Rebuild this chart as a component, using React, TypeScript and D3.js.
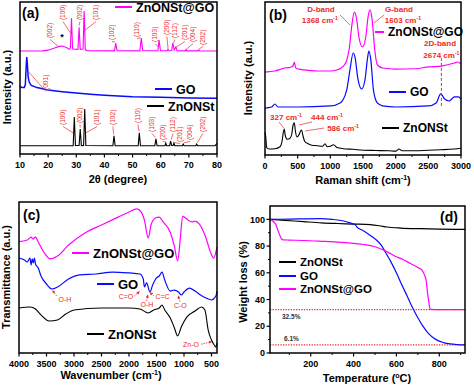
import React from 'react';
import * as d3 from 'd3';

type Pt = [number, number];
// [text, label x, label foot y, leader end x, leader end y] in data units
type Lbl = [string, number, number, number, number];

const FONT = 'Arial, "Liberation Sans", Helvetica, sans-serif';
const RED = '#ee2a2a';
const PINK = '#ff00ff';
const BLUE = '#0a0aff';

// ---------- (a) XRD, 2θ vs intensity (a.u.)
const xrdZnONSt: Pt[] = [
  [10, 5.5], [28.9, 5.5], [29.3, 24.5], [29.7, 5.6], [31.0, 5.6], [31.4, 16.6], [31.8, 5.6],
  [32.6, 5.7], [33.0, 29.8], [33.4, 5.6], [43.0, 5.5], [43.4, 12], [43.8, 5.5], [52.0, 5.5],
  [52.4, 14], [52.8, 5.5], [57.9, 5.5], [58.3, 10], [58.7, 5.5], [61.5, 5.5], [61.8, 7.3],
  [62.1, 5.5], [63.2, 5.5], [63.5, 8.6], [63.9, 5.6], [64.4, 5.6], [64.7, 7.3], [65.0, 5.5],
  [67.7, 5.5], [68.0, 6.6], [68.3, 5.5], [72.5, 5.5], [72.8, 6.6], [73.1, 5.5], [79.3, 5.5], [80, 7],
];
const xrdGO: Pt[] = [
  [10, 45], [10.5, 44.2], [11, 44], [11.5, 44], [11.9, 46], [12.2, 58], [12.4, 64.2], [12.6, 60],
  [12.9, 51], [13.3, 47.5], [14, 45.5], [16, 44], [20, 42.4], [25, 41.3], [30, 40.4], [35, 39.6],
  [40, 39], [50, 38], [60, 37.6], [70, 37.1], [80, 37],
];
const xrdComposite: Pt[] = [
  [10, 68.2], [18, 68.3], [20, 68.8], [22, 70], [24, 71.3], [25, 71.5], [26.5, 70.5], [27.5, 69.3],
  [27.9, 70], [28.3, 90], [28.7, 69.5], [30.6, 69.3], [31.0, 84], [31.4, 69.3], [32.4, 69.5],
  [32.8, 94.7], [33.2, 69], [34, 68.4], [43.6, 68.3], [44.0, 73.5], [44.5, 68.5], [52.6, 68.3],
  [53.1, 76.8], [53.6, 68.6], [55, 68.4], [59.0, 68.4], [59.4, 75.5], [59.9, 68.5], [62.3, 68.4],
  [62.6, 69.5], [62.9, 68.4], [63.9, 68.6], [64.3, 73.5], [64.8, 69], [65.4, 71], [65.8, 68.5],
  [68.7, 68.3], [69, 69.3], [69.3, 68.3], [73.2, 68.3], [73.5, 69], [73.8, 68.3], [80, 68.2],
];
const xrdZnONStLabels: Lbl[] = [
  ['(100)', 25.3, 19.2, 28.9, 14], ['(002)', 31.3, 20.5, 31.4, 17.5], ['(101)', 37.4, 19.2, 33.4, 14],
  ['(102)', 43.0, 19.2, 43.3, 13], ['(110)', 51.9, 20.5, 52.3, 15], ['(103)', 56.9, 14.6, 58.1, 11],
  ['(200)', 60.8, 9.3, 61.6, 8], ['(112)', 64.4, 14.6, 63.7, 9.5], ['(201)', 66.9, 8, 65.0, 7.5],
  ['(004)', 70.4, 9.3, 68.3, 7.5], ['(202)', 75.0, 14.6, 73.0, 7.5],
];
const xrdCompositeLabels: Lbl[] = [
  ['(002)', 20.7, 76.8, 23.5, 71.5], ['(100)', 25.3, 88.7, 28.0, 80], ['(002)', 31.3, 88.7, 31.0, 85],
  ['(101)', 37.0, 88.7, 33.1, 82], ['(102)', 42.7, 75.5, 43.8, 74.2], ['(110)', 51.6, 77.5, 52.9, 77],
  ['(103)', 58.0, 74.2, 59.0, 71], ['(200)', 62.2, 78.8, 62.6, 70], ['(112)', 65.1, 76.8, 64.5, 73.5],
  ['(201)', 68.6, 75.5, 65.6, 71], ['(004)', 71.5, 74.2, 69.2, 69.5], ['(202)', 75.0, 72.2, 73.6, 69.5],
];
const xrdGOLabels: Lbl[] = [['(001)', 19.2, 42.4, 12.8, 55]];

// ---------- (b) Raman, shift (cm-1) vs intensity (a.u.)
const ramanComposite: Pt[] = [
  [0, 55.3], [150, 56], [250, 57.3], [300, 58], [360, 58.2], [400, 58.7], [430, 59.5], [450, 62],
  [470, 58], [520, 57.2], [600, 56.7], [800, 56], [1000, 56], [1100, 56.7], [1200, 59.3], [1250, 63],
  [1290, 71], [1330, 86.7], [1368, 95.3], [1400, 91.3], [1440, 78], [1490, 72], [1540, 78],
  [1580, 92.7], [1610, 96.7], [1640, 90], [1680, 70], [1720, 60], [1800, 58], [2000, 57.3],
  [2300, 57.5], [2500, 58.7], [2700, 59.3], [2900, 61.3], [2950, 62], [3000, 60.7],
];
const ramanGO: Pt[] = [
  [0, 31.3], [100, 32], [150, 34], [200, 32], [500, 32], [1000, 32.7], [1150, 34.7], [1250, 43.3],
  [1300, 56.7], [1350, 68], [1380, 64.7], [1420, 51.3], [1480, 44], [1530, 50], [1570, 64.7],
  [1590, 69.3], [1620, 63.3], [1660, 43.3], [1720, 34.7], [1800, 32.7], [2000, 32], [2500, 32.7],
  [2620, 34.7], [2690, 40.7], [2750, 37.3], [2820, 36], [2900, 38.7], [2960, 38.7], [3000, 37.3],
];
const ramanZnONSt: Pt[] = [
  [0, 15], [12, 12], [25, 5], [60, 4], [150, 4.2], [230, 5.5], [260, 9], [280, 15], [295, 17.3],
  [310, 13], [340, 10.5], [380, 11], [410, 14], [430, 20], [449, 21.5], [465, 16], [490, 12],
  [520, 13.5], [545, 16], [561, 16.7], [580, 13], [610, 9], [660, 7.5], [720, 6.5], [800, 6.2],
  [880, 5.8], [920, 7.5], [950, 5.5], [1000, 5.8], [1050, 6.8], [1100, 5], [1200, 4.2], [1350, 3.8],
  [1500, 3.2], [1700, 3], [1900, 2.8], [2000, 2.6], [2050, 4], [2100, 2.8], [2300, 2.8], [2500, 3.2],
  [2700, 3.5], [2900, 4], [3000, 4.5],
];

// ---------- (c) FTIR, wavenumber (cm-1) vs transmittance (a.u.)
const ftirComposite: Pt[] = [
  [4000, 73.7], [3850, 74.8], [3780, 76.8], [3750, 75.5], [3700, 76.8], [3650, 73.5], [3550, 66.9],
  [3430, 62.3], [3300, 64.2], [3100, 71.5], [2800, 79.5], [2500, 84.8], [2200, 90], [2000, 93.4],
  [1860, 95.4], [1780, 93.4], [1720, 88], [1650, 76.2], [1600, 84.8], [1520, 89.4], [1450, 90],
  [1380, 86.8], [1250, 80], [1180, 71.5], [1115, 61], [1070, 74.8], [1024, 90.7], [950, 88.7],
  [850, 86.8], [800, 87.4], [720, 85.4], [600, 76.2], [520, 66.9], [460, 62.9], [420, 66.9], [400, 70.2],
];
const ftirGO: Pt[] = [
  [4000, 62.9], [3900, 61.6], [3850, 60.3], [3800, 62.9], [3780, 58.3], [3760, 62.3], [3740, 59.6],
  [3720, 62.9], [3700, 58.9], [3650, 56.3], [3600, 51], [3500, 45.7], [3400, 42.4], [3300, 43.7],
  [3100, 49], [2900, 51.7], [2600, 52.3], [2300, 53.6], [2000, 53], [1800, 52.3], [1740, 49],
  [1720, 43.7], [1680, 46.4], [1620, 40.4], [1570, 45], [1500, 49.7], [1450, 51], [1400, 53.6],
  [1350, 48.3], [1250, 41], [1180, 41.7], [1100, 40.4], [1050, 38.4], [1000, 40.4], [900, 43],
  [800, 41], [700, 38.4], [600, 36.4], [500, 35.1], [420, 37.7], [400, 41],
];
const ftirZnONSt: Pt[] = [
  [4000, 29.8], [3800, 30.5], [3700, 29.1], [3600, 25.2], [3450, 21.2], [3300, 21.9], [3150, 25.8],
  [3000, 28.5], [2500, 29.8], [2000, 29.8], [1800, 29.1], [1700, 27.2], [1650, 26.5], [1550, 28.5],
  [1450, 29.8], [1400, 31.8], [1350, 28.5], [1250, 23.2], [1180, 17.2], [1115, 11.3], [1050, 17.2],
  [950, 23.8], [800, 27.8], [680, 30.5], [620, 28.5], [560, 15.2], [500, 8.6], [450, 5.3], [420, 4],
  [400, 6.6],
];
// [text, text x, text y, arrow from x, from y, arrow to x, to y]
const ftirBands: [string, number, number, number, number, number, number][] = [
  ['O-H', 3164, 35.1, 3315, 37.7, 3387, 41.3],
  ['C=O', 2055, 37.3, 1903, 37.7, 1812, 40.6],
  ['O-H', 1673, 31.8, 1678, 34.4, 1660, 38.4],
  ['C=C', 1391, 37.3, 1545, 37.7, 1618, 40],
  ['C-O', 1067, 31.2, 1073, 34, 1103, 37.7],
  ['Zn-O', 873, 5.3, 691, 5.8, 496, 7.5],
];

// ---------- (d) TGA, temperature (°C) vs weight (%)
const tgaZnONSt: Pt[] = [
  [10, 100], [60, 99.5], [167, 98.3], [250, 97.4], [323, 96.9], [400, 96.5], [478, 96], [520, 95.2],
  [556, 94.3], [620, 93.5], [711, 93], [800, 92.7], [921, 92.5],
];
const tgaGO: Pt[] = [
  [10, 100], [100, 100.2], [245, 100.5], [300, 100], [354, 98.8], [390, 97], [408, 96], [416, 94.2],
  [440, 92], [478, 88], [510, 84], [530, 80.5], [548, 75.6], [575, 68], [603, 59], [625, 51],
  [649, 43], [672, 35], [696, 27.5], [722, 20.5], [750, 14.5], [785, 10], [820, 7.8], [850, 6.8],
  [883, 6.3], [921, 6.1],
];
const tgaComposite: Pt[] = [
  [10, 100], [35, 96.8], [50, 90.5], [62, 86], [70, 84.7], [100, 84.5], [167, 84.2], [250, 83.6],
  [323, 83], [400, 82], [447, 81.2], [500, 79.5], [525, 78], [560, 75.5], [587, 73], [630, 70],
  [665, 67], [700, 64], [719, 62], [732, 58], [739, 54], [745, 45], [750, 39.5], [755, 34],
  [760, 32.6], [780, 32.5], [921, 32.5],
];
const residues = [32.5, 6.1];

type Scale = d3.ScaleLinear<number, number>;

function Frame({ x, y, xMajor, xMinor, yMajor = [], yMinor = [] }: {
  x: Scale; y: Scale; xMajor: number[]; xMinor: number[]; yMajor?: number[]; yMinor?: number[];
}) {
  const [xa, xb] = x.range();
  const [yb, yt] = y.range();
  return (
    <g>
      {xMajor.map((v) => (
        <g key={'xM' + v}>
          <line x1={x(v)} x2={x(v)} y1={yb} y2={yb + 3.5} stroke="#000" strokeWidth={1.2} />
          <text x={x(v)} y={yb + 13.5} textAnchor="middle" fontSize={9} fontWeight="bold">{v}</text>
        </g>
      ))}
      {xMinor.map((v) => (
        <line key={'xm' + v} x1={x(v)} x2={x(v)} y1={yb} y2={yb + 2} stroke="#000" strokeWidth={1} />
      ))}
      {yMajor.map((v) => (
        <g key={'yM' + v}>
          <line x1={xa} x2={xa - 3.5} y1={y(v)} y2={y(v)} stroke="#000" strokeWidth={1.2} />
          <text x={xa - 5} y={y(v) + 3.2} textAnchor="end" fontSize={9} fontWeight="bold">{v}</text>
        </g>
      ))}
      {yMinor.map((v) => (
        <line key={'ym' + v} x1={xa} x2={xa - 2} y1={y(v)} y2={y(v)} stroke="#000" strokeWidth={1} />
      ))}
      <rect x={xa} y={yt} width={xb - xa} height={yb - yt} fill="none" stroke="#000" strokeWidth={1.5} />
    </g>
  );
}

function Legend({ x, y, color, text, size, len = 17 }: { x: number; y: number; color: string; text: string; size: number; len?: number }) {
  return (
    <g>
      <line x1={x} x2={x + len} y1={y} y2={y} stroke={color} strokeWidth={2} />
      <text x={x + len + 4} y={y + size * 0.36} fontSize={size} fontWeight="bold">{text}</text>
    </g>
  );
}

function Cm({ x, y, n, size, anchor = 'middle', weight = 'bold', color = '#000' }: {
  x: number; y: number; n: string; size: number; anchor?: string; weight?: string; color?: string;
}) {
  return (
    <text x={x} y={y} textAnchor={anchor as any} fontSize={size} fontWeight={weight} fill={color}>
      {n}cm<tspan fontSize={size * 0.65} dy={-size * 0.4}>-1</tspan>
    </text>
  );
}

function PeakLabels({ x, y, labels }: { x: Scale; y: Scale; labels: Lbl[] }) {
  return (
    <g>
      {labels.map(([t, lx, ly, ex, ey], i) => (
        <g key={i}>
          <text transform={`translate(${x(lx)},${y(ly)}) rotate(-90)`} dy="0.35em" fontSize={6.6} fill={RED}>{t}</text>
          <line x1={x(lx)} y1={y(ly) + 1.5} x2={x(ex)} y2={y(ey)} stroke={RED} strokeWidth={0.7} />
        </g>
      ))}
    </g>
  );
}

export default function App() {
  const mkLine = (x: Scale, y: Scale, curve: d3.CurveFactory = d3.curveLinear) =>
    d3.line<Pt>().x((d) => x(d[0])).y((d) => y(d[1])).curve(curve);

  // (a)
  const xA = d3.scaleLinear().domain([10, 80]).range([20, 217]);
  const yA = d3.scaleLinear().domain([0, 100.7]).range([154, 2]);
  const lA = mkLine(xA, yA);
  // (b)
  const xB = d3.scaleLinear().domain([0, 3000]).range([265, 461]);
  const yB = d3.scaleLinear().domain([0, 102]).range([155, 2]);
  const lB = mkLine(xB, yB, d3.curveMonotoneX);
  // (c)
  const xC = d3.scaleLinear().domain([4000, 400]).range([19, 217]);
  const yC = d3.scaleLinear().domain([0, 100]).range([353, 202]);
  const lC = mkLine(xC, yC, d3.curveMonotoneX);
  // (d)
  const xD = d3.scaleLinear().domain([10, 920]).range([270, 465]);
  const yD = d3.scaleLinear().domain([0, 110]).range([353, 206]);
  const lD = mkLine(xD, yD, d3.curveMonotoneX);

  const range = (a: number, b: number, s: number) => d3.range(a, b + s / 2, s);

  return (
    <div style={{ position: 'fixed', left: 0, top: 0 }}>
      <svg width={474} height={385} style={{ display: 'block', background: '#fff' }} fontFamily={FONT}>
        <defs>
          <marker id="arr" viewBox="0 0 6 6" refX="5" refY="3" markerWidth="4" markerHeight="4" orient="auto">
            <path d="M0,0 L6,3 L0,6 z" fill={RED} />
          </marker>
        </defs>

        {/* (a) XRD */}
        <path d={lA(xrdZnONSt) || ''} fill="none" stroke="#000" strokeWidth={1.1} />
        <path d={lA(xrdGO) || ''} fill="none" stroke={BLUE} strokeWidth={1.5} />
        <path d={lA(xrdComposite) || ''} fill="none" stroke={PINK} strokeWidth={1.1} />
        <PeakLabels x={xA} y={yA} labels={xrdZnONStLabels} />
        <PeakLabels x={xA} y={yA} labels={xrdCompositeLabels} />
        <PeakLabels x={xA} y={yA} labels={xrdGOLabels} />
        <text x={xA(24.9)} y={yA(75.5)} fontSize={9} textAnchor="middle" fontWeight="bold">*</text>
        <Frame x={xA} y={yA} xMajor={range(10, 80, 10)} xMinor={range(15, 75, 10)} />
        <text x={22} y={18} fontSize={14} fontWeight="bold">(a)</text>
        <Legend x={115} y={7} color={PINK} text="ZnONSt@GO" size={12.5} />
        <Legend x={155} y={89} color={BLUE} text="GO" size={12.5} />
        <Legend x={147} y={106} color="#000" text="ZnONSt" size={12.5} />
        <text x={118} y={183} textAnchor="middle" fontSize={11} fontWeight="bold">2θ (degree)</text>
        <text transform="translate(11,87) rotate(-90)" textAnchor="middle" fontSize={11} fontWeight="bold">Intensity (a.u.)</text>

        {/* (b) Raman */}
        <path d={lB(ramanZnONSt) || ''} fill="none" stroke="#000" strokeWidth={1.1} />
        <path d={lB(ramanGO) || ''} fill="none" stroke={BLUE} strokeWidth={1.2} />
        <path d={lB(ramanComposite) || ''} fill="none" stroke={PINK} strokeWidth={1.2} />
        <line x1={xB(2700)} x2={xB(2700)} y1={yB(64.7)} y2={yB(32)} stroke={RED} strokeWidth={1} strokeDasharray="3,2" />
        <Frame x={xB} y={yB} xMajor={range(0, 3000, 500)} xMinor={range(250, 2750, 500)} />
        <text x={269} y={20} fontSize={14} fontWeight="bold">(b)</text>
        <text x={xB(857)} y={yB(95.3)} textAnchor="middle" fontSize={8} fontWeight="bold" fill={RED}>D-band</text>
        <Cm x={xB(840)} y={yB(88)} n="1368 " size={8} color={RED} />
        <line x1={xB(1148)} y1={yB(93.3)} x2={xB(1301)} y2={yB(86.7)} stroke={RED} strokeWidth={0.7} />
        <text x={xB(2051)} y={yB(95.3)} textAnchor="middle" fontSize={8} fontWeight="bold" fill={RED}>G-band</text>
        <Cm x={xB(2112)} y={yB(88)} n="1603 " size={8} color={RED} />
        <line x1={xB(1821)} y1={yB(93.3)} x2={xB(1668)} y2={yB(88)} stroke={RED} strokeWidth={0.7} />
        <text x={xB(2679)} y={yB(72.7)} textAnchor="middle" fontSize={8} fontWeight="bold" fill={RED}>2D-band</text>
        <Cm x={xB(2700)} y={yB(64.7)} n="2674 " size={8} color={RED} />
        <Cm x={xB(321)} y={yB(23.3)} n="327 " size={8} color={RED} />
        <Cm x={xB(949)} y={yB(23.3)} n="444 " size={8} color={RED} />
        <Cm x={xB(1194)} y={yB(16)} n="586 " size={8} color={RED} />
        <line x1={xB(214)} y1={yB(22)} x2={xB(291)} y2={yB(17.8)} stroke={RED} strokeWidth={0.7} />
        <line x1={xB(719)} y1={yB(22)} x2={xB(520)} y2={yB(20)} stroke={RED} strokeWidth={0.7} />
        <line x1={xB(903)} y1={yB(18)} x2={xB(612)} y2={yB(16)} stroke={RED} strokeWidth={0.7} />
        <Legend x={375} y={32} color={PINK} text="ZnONSt@GO" size={12} len={9} />
        <Legend x={389} y={92} color={BLUE} text="GO" size={12} />
        <Legend x={382} y={128} color="#000" text="ZnONSt" size={12} />
        <text x={363} y={184} textAnchor="middle" fontSize={11} fontWeight="bold">
          Raman shift (cm<tspan fontSize={7} dy={-4}>-1</tspan><tspan dy={4}>)</tspan>
        </text>
        <text transform="translate(252,78) rotate(-90)" textAnchor="middle" fontSize={11} fontWeight="bold">Intensity (a.u.)</text>

        {/* (c) FTIR */}
        <path d={lC(ftirZnONSt) || ''} fill="none" stroke="#000" strokeWidth={1.1} />
        <path d={lC(ftirGO) || ''} fill="none" stroke={BLUE} strokeWidth={1.2} />
        <path d={lC(ftirComposite) || ''} fill="none" stroke={PINK} strokeWidth={1.2} />
        {ftirBands.map(([t, tx, ty, ax, ay, bx, by], i) => (
          <g key={i}>
            <text x={xC(tx)} y={yC(ty)} dy="0.35em" textAnchor="middle" fontSize={7} fill={RED}>{t}</text>
            <line x1={xC(ax)} y1={yC(ay)} x2={xC(bx)} y2={yC(by)} stroke={RED} strokeWidth={0.8} strokeDasharray="1.5,1" markerEnd="url(#arr)" />
          </g>
        ))}
        <Frame x={xC} y={yC} xMajor={range(500, 4000, 500)} xMinor={range(750, 3750, 500)} />
        <text x={23} y={220} fontSize={14} fontWeight="bold">(c)</text>
        <Legend x={72} y={253} color={PINK} text="ZnONSt@GO" size={13} />
        <Legend x={97} y={284} color={BLUE} text="GO" size={13} />
        <Legend x={87} y={334} color="#000" text="ZnONSt" size={13} />
        <text x={111} y={379} textAnchor="middle" fontSize={11} fontWeight="bold">
          Wavenumber (cm<tspan fontSize={7} dy={-4}>-1</tspan><tspan dy={4}>)</tspan>
        </text>
        <text transform="translate(10,277) rotate(-90)" textAnchor="middle" fontSize={11} fontWeight="bold">Transmittance (a.u.)</text>

        {/* (d) TGA */}
        {residues.map((r) => (
          <line key={r} x1={xD(10)} x2={xD(920)} y1={yD(r)} y2={yD(r)} stroke={RED} strokeWidth={1.3} strokeDasharray="1.3,1.3" />
        ))}
        <path d={lD(tgaZnONSt) || ''} fill="none" stroke="#000" strokeWidth={1.2} />
        <path d={lD(tgaGO) || ''} fill="none" stroke={BLUE} strokeWidth={1.2} />
        <path d={lD(tgaComposite) || ''} fill="none" stroke={PINK} strokeWidth={1.2} />
        <text x={282} y={319} fontSize={6.5} fontWeight="bold" fill="#333">32.5%</text>
        <text x={284} y={341} fontSize={6.5} fontWeight="bold" fill="#333">6.1%</text>
        <Frame x={xD} y={yD} xMajor={range(200, 800, 200)} xMinor={range(100, 900, 200)} yMajor={range(0, 100, 20)} yMinor={range(10, 90, 20)} />
        <text x={440} y={222} fontSize={14} fontWeight="bold">(d)</text>
        <Legend x={279} y={262} color="#000" text="ZnONSt" size={11.5} />
        <Legend x={279} y={276} color={BLUE} text="GO" size={11.5} />
        <Legend x={279} y={289} color={PINK} text="ZnONSt@GO" size={11.5} />
        <text x={367} y={382} textAnchor="middle" fontSize={11} fontWeight="bold">
          Temperature (<tspan fontSize={7} dy={-4}>o</tspan><tspan dy={4}>C)</tspan>
        </text>
        <text transform="translate(247,282) rotate(-90)" textAnchor="middle" fontSize={11} fontWeight="bold">Weight loss (%)</text>
      </svg>
    </div>
  );
}
